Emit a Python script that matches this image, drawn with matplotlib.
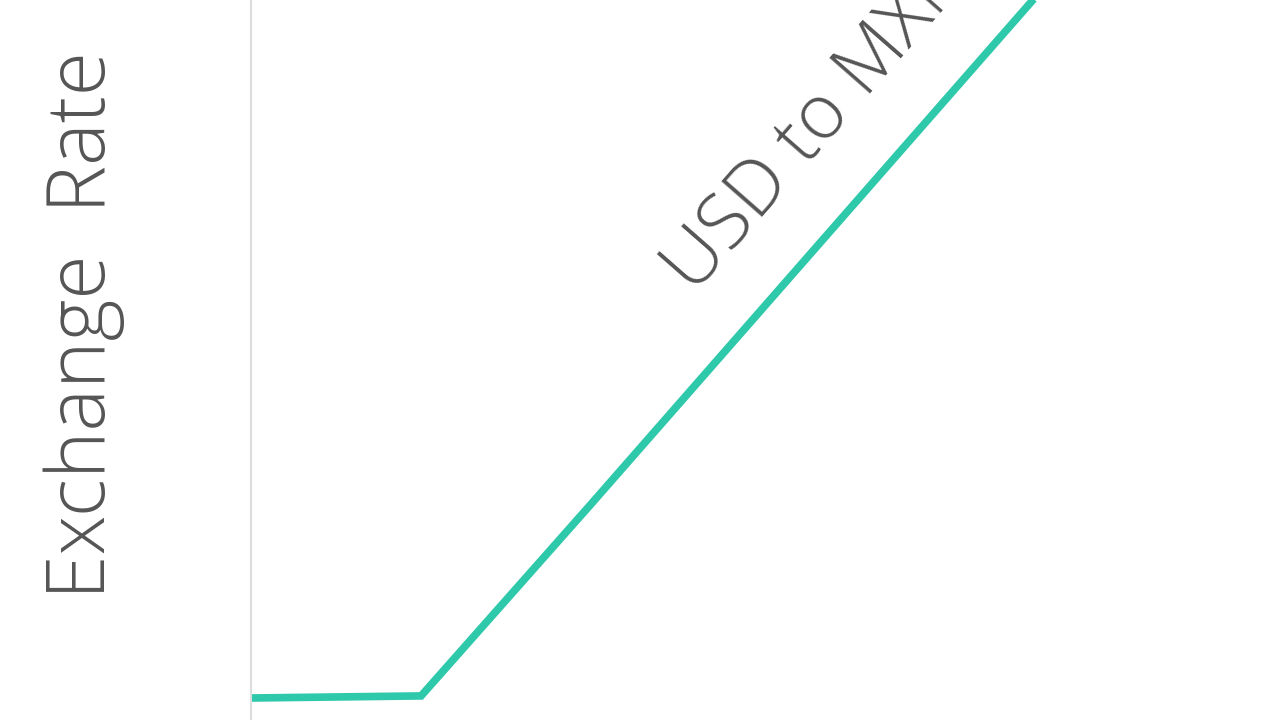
import matplotlib.pyplot as plt

# ======== data ======== #
years = [2000, 2001, 2002, 2003, 2004, 2005]
usd_mxn = [10.0, 10.03, 12.78, 15.56, 18.34, 21.12]
series_label = "USD to MXN"
y_label = "Exchange  Rate"

line_color = "#2ec8aa"
text_color = "#555555"

plt.rcParams['font.family'] = ['Open Sans', 'DejaVu Sans']

fig = plt.figure(figsize=(12.8, 7.2), dpi=100)
ax = fig.add_axes([251 / 1280, 0, 1 - 251 / 1280, 1])

ax.plot(years, usd_mxn, color=line_color, linewidth=5.5,
        solid_capstyle="butt", solid_joinstyle="miter", clip_on=True)

ax.set_xlim(2000, 2006.05)
ax.set_ylim(9.685, 20.0)

# only the thin left axis line stays
for side in ["top", "right", "bottom"]:
    ax.spines[side].set_visible(False)
ax.spines["left"].set_color("#dddddd")
ax.spines["left"].set_linewidth(1.5)
ax.set_xticks([])
ax.set_yticks([])

# series label drawn along the line
ax.text(2002.6, 15.78, series_label, rotation=48.8, rotation_mode="anchor",
        ha="left", va="baseline", fontsize=55, fontweight="light",
        color=text_color, clip_on=True)

fig.text(84 / 1280, 1 - 325 / 720, y_label, rotation=90, ha="center",
         va="center", fontsize=58, fontweight="light", color=text_color)

fig.savefig("out.png", dpi=100, facecolor="white")
